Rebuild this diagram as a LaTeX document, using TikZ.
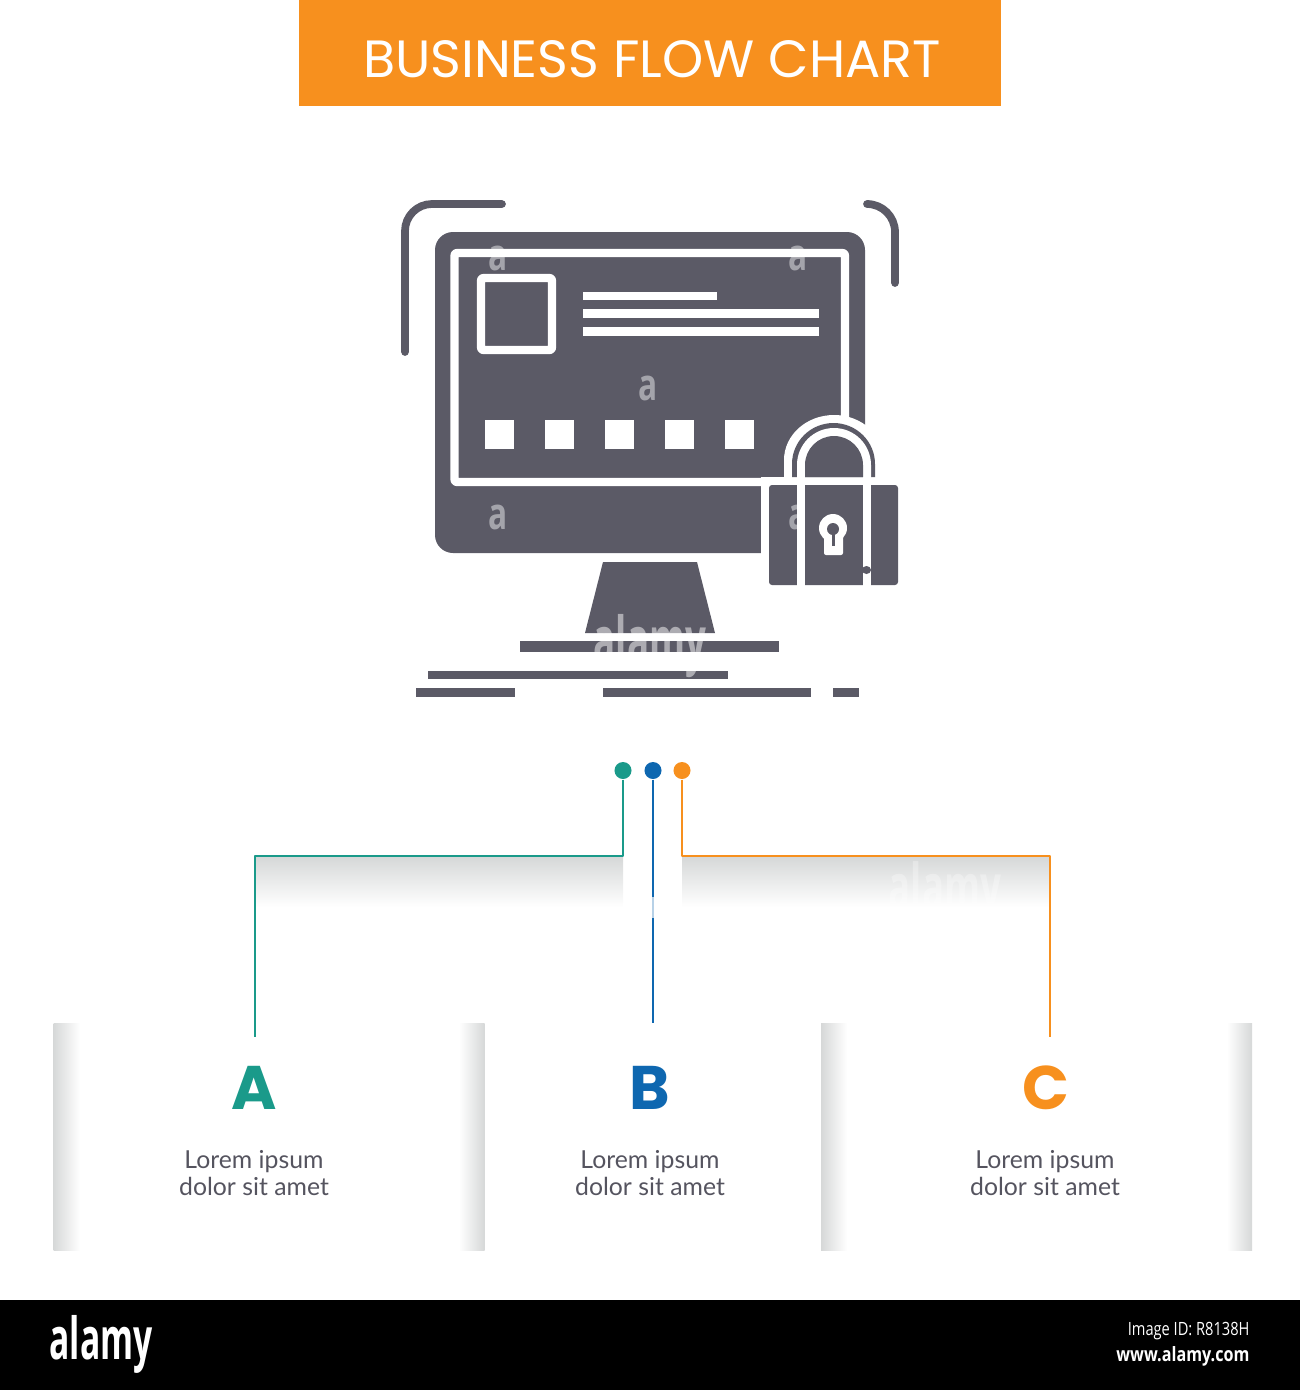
\documentclass[tikz,border=0pt]{standalone}
\usepackage{xcolor}
\usepackage{fontspec}
\setmainfont{Lato}
\newfontfamily\barfont{Open Sans}
\newfontfamily\headfont{Poppins}
\definecolor{titleorange}{HTML}{F7901E}
\definecolor{iconslate}{HTML}{5B5A66}
\definecolor{textslate}{HTML}{55545F}
\definecolor{tealA}{HTML}{1A9A8A}
\definecolor{blueB}{HTML}{0E67B0}
\definecolor{orangeC}{HTML}{F7901E}
\definecolor{shade}{HTML}{D6D8D8}
\tikzset{
  px/.style={x=0.01cm,y=-0.01cm},
  iconbar/.style={fill=iconslate},
  whitebar/.style={fill=white},
  bracket/.style={draw=iconslate,line width=2.2pt,line cap=round},
  wire/.style={line width=0.6pt},
  dotnode/.style={circle,inner sep=0pt,minimum size=0.17cm},
  letternode/.style={inner sep=0pt,font=\headfont\fontsize{17.5}{17.5}\selectfont\bfseries},
  bodynode/.style={inner sep=0pt,align=center,text=textslate,font=\fontsize{7.05}{7.7}\selectfont},
  markletter/.style={inner sep=0pt,text=white,opacity=0.45,xscale=0.72,font=\barfont\fontsize{12.5}{12.5}\selectfont\bfseries},
  markword/.style={inner sep=0pt,text=white,opacity=0.5,xscale=0.58,font=\barfont\fontsize{18}{18}\selectfont\bfseries},
}
\begin{document}
\begin{tikzpicture}[px,line join=round]
  \useasboundingbox (0,0) rectangle (1300,1390);
  % title
  \fill[titleorange] (299,0) rectangle (1001,106);
  \node[inner sep=0pt,text=white,font=\headfont\fontsize{14.9}{14.9}\selectfont] (title) at (652,59) {BUSINESS FLOW CHART};
  % monitor
  \fill[iconbar,rounded corners=0.18cm] (435,232) rectangle (865,553);
  \draw[white,line width=2.3pt,rounded corners=0.02cm] (454.5,253) rectangle (845,482);
  \draw[white,line width=2.3pt,rounded corners=0.02cm] (481,278) rectangle (552,350);
  \fill[whitebar] (583,292) rectangle (717,300);
  \fill[whitebar] (583,309) rectangle (819,318);
  \fill[whitebar] (583,327) rectangle (819,336);
  \foreach \x in {485,545,605,665,725}
    \fill[whitebar] (\x,420) rectangle +(29,29);
  \fill[iconbar] (603,562) -- (697,562) -- (715,633) -- (585,633) -- cycle;
  \fill[iconbar] (520,641) rectangle (779,652);
  \fill[iconbar] (428,671) rectangle (728,679);
  \fill[iconbar] (416,688) rectangle (515,697);
  \fill[iconbar] (603,688) rectangle (811,697);
  \fill[iconbar] (833,688) rectangle (859,697);
  % corner brackets
  \draw[bracket,rounded corners=0.27cm] (405,352) -- (405,204) -- (502,204);
  \draw[bracket,rounded corners=0.28cm] (867,204) -- (895,204) -- (895,283);
  % lock
  \fill[white] (761,585) -- (761,477) -- (784,477) -- (784,460) arc[start angle=180,end angle=360,x radius=50,y radius=45] -- (898,477) -- (898,585) -- cycle;
  \fill[iconslate] (792,477) -- (792,464) arc[start angle=180,end angle=360,x radius=41.5,y radius=41] -- (875,477) -- cycle;
  \fill[white] (797,477) -- (797,465) arc[start angle=180,end angle=360,x radius=37,y radius=37] -- (871,477) -- cycle;
  \fill[iconslate] (805,477) -- (805,465) arc[start angle=180,end angle=360,x radius=29,y radius=29] -- (863,477) -- cycle;
  \fill[iconslate,rounded corners=0.03cm] (769,485) rectangle (898,585);
  \node[markletter] (markLock) at (798,517) {a};
  \fill[white] (797,477) rectangle (805,586);
  \fill[white] (863,477) rectangle (871,586);
  \fill[iconslate] (866.5,570) ellipse (4.5 and 4);
  \fill[white] (833,528) circle (14);
  \fill[white,rounded corners=0.02cm] (824,532) rectangle (843,555);
  \fill[iconslate] (833,529) circle (6);
  \fill[iconslate] (831.5,530) rectangle (834.5,546);
  % marks over the icon
  \node[markletter] (markA) at (498,258) {a};
  \node[markletter] (markB) at (798,258) {a};
  \node[markletter] (markC) at (648,388) {a};
  \node[markletter] (markD) at (498,517) {a};
  \node[markword] (markE) at (650,646) {alamy};
  % shaded bands
  \shade[top color=shade,bottom color=white] (256,857) rectangle (623,907);
  \shade[top color=shade,bottom color=white] (682,857) rectangle (1049,907);
  \shade[left color=shade,right color=white] (53.5,1023) rectangle (80,1250);
  \shade[left color=white,right color=shade] (459,1023) rectangle (484.5,1250);
  \shade[left color=shade,right color=white] (821,1023) rectangle (847,1250);
  \shade[left color=white,right color=shade] (1227,1023) rectangle (1252,1250);
  \node[markword,opacity=0.3] (markF) at (945,893) {alamy};
  % dots and wires
  \node[dotnode,fill=tealA] (dotA) at (623,770.5) {};
  \node[dotnode,fill=blueB] (dotB) at (653,770.5) {};
  \node[dotnode,fill=orangeC] (dotC) at (682,770.5) {};
  \coordinate (kneeA) at (623,856);
  \coordinate (turnA) at (255,856);
  \coordinate (endA) at (255,1037);
  \coordinate (endB) at (653,1023);
  \coordinate (kneeC) at (682,856);
  \coordinate (turnC) at (1050,856);
  \coordinate (endC) at (1050,1037);
  \draw[wire,tealA] (dotA) -- (kneeA) -- (turnA) -- (endA);
  \draw[wire,blueB] (dotB) -- (endB);
  \draw[wire,orangeC] (dotC) -- (kneeC) -- (turnC) -- (endC);
  \fill[white,opacity=0.7] (650,897) rectangle (656,918);
  % letters and texts
  \node[letternode,text=tealA] (letterA) at (254,1088) {A};
  \node[letternode,text=blueB] (letterB) at (650,1088) {B};
  \node[letternode,text=orangeC] (letterC) at (1045.5,1088) {C};
  \node[bodynode] (textA) at (254,1173) {Lorem ipsum\\dolor sit amet};
  \node[bodynode] (textB) at (650,1173) {Lorem ipsum\\dolor sit amet};
  \node[bodynode] (textC) at (1045,1173) {Lorem ipsum\\dolor sit amet};
  % bottom bar
  \fill[black] (0,1300) rectangle (1300,1390);
  \node[inner sep=0pt,text=white,xscale=0.58,font=\barfont\fontsize{16.5}{16.5}\selectfont\bfseries] (barlogo) at (101,1344) {alamy};
  \node[inner sep=0pt,text=white,anchor=east,xscale=0.8,font=\barfont\fontsize{5.2}{5.2}\selectfont] (barid) at (1250,1331) {Image ID: R8138H};
  \node[inner sep=0pt,text=white,anchor=east,xscale=0.82,font=\barfont\fontsize{5.6}{5.6}\selectfont\bfseries] (barurl) at (1250,1356) {www.alamy.com};
\end{tikzpicture}
\end{document}
